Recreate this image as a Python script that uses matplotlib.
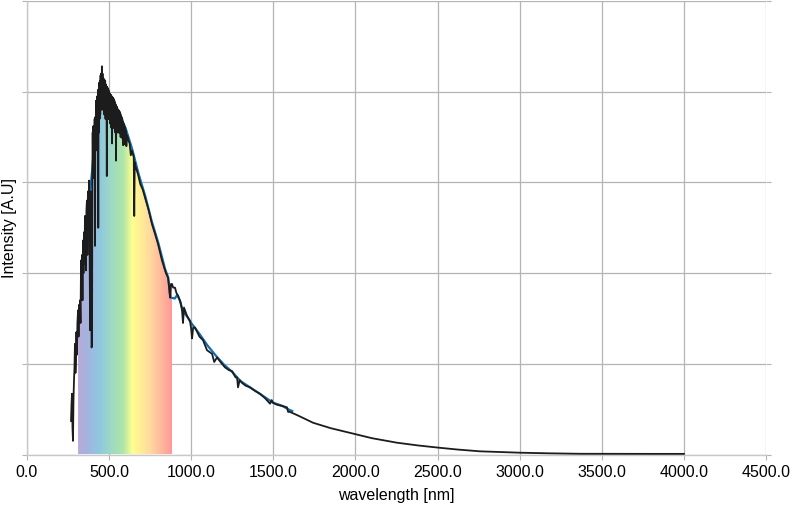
import numpy as np
import matplotlib
matplotlib.use("Agg")
import matplotlib.pyplot as plt
from matplotlib.colors import LinearSegmentedColormap

# ---------------- data ----------------
black_wl = [268, 271, 274, 277, 280, 283, 286, 289, 292, 295, 298, 301, 304, 307, 311,
            314, 317, 320, 323, 326, 329, 332, 335, 338, 341, 344, 347, 350, 353, 356,
            359, 362, 365, 368, 371, 374, 378, 381, 384, 387, 390, 393, 396, 398,
            400, 402, 404, 406, 408, 410, 412, 414, 416, 418, 420, 422, 424, 426, 428,
            430, 432, 434, 436, 438, 440, 442, 444, 446, 448, 450, 452, 454, 456, 458,
            460, 462, 464, 466, 468, 470, 472, 474, 476, 478, 480, 482, 484, 486, 488,
            490, 492, 494, 496, 498, 500, 502, 504, 506, 508, 510, 512, 514, 516, 518,
            520, 522, 524, 526, 528, 530, 532, 534, 536, 538, 540, 542, 544, 546, 548,
            550, 552, 554, 556, 558, 560, 562, 564, 566, 568, 570, 572, 574, 576, 578,
            580, 582, 584, 586, 588, 590, 592, 594, 596, 598, 600, 605, 610, 618, 625,
            632, 639, 650, 653, 656, 660,
            676, 690, 705, 719, 740, 761, 780, 798, 810, 822, 834, 846, 859, 865, 871,
            877, 883, 890, 901, 910, 920, 935, 944, 950, 956, 974, 993, 1000, 1005, 1012,
            1023, 1050, 1072, 1096, 1127, 1140, 1157, 1187, 1206, 1230, 1248, 1270, 1279, 1285, 1295,
            1309, 1330, 1358, 1390, 1419, 1450, 1480, 1490, 1498, 1520, 1541, 1565, 1583, 1590, 1601,
            1650, 1742, 1850, 1985, 2100, 2253, 2380, 2497, 2620, 2758, 2880, 2999, 3180, 3367, 3600,
            3800, 4000]
black_int = [0.37, 0.55, 0.67, 0.30, 0.15, 0.60, 0.81, 0.95, 1.22, 0.90, 1.04, 1.35, 1.10, 1.45, 1.59,
             1.30, 1.65, 1.50, 1.70, 1.45, 2.14, 1.80, 2.20, 1.70, 2.36, 2.00, 2.45, 2.10, 2.63, 2.30,
             2.03, 2.70, 2.80, 2.20, 2.90, 2.60, 3.02, 2.40, 1.37, 2.60, 2.90, 1.18, 1.20, 3.10,
             3.55, 3.20, 3.62, 3.05, 3.60, 3.30, 3.70, 2.30, 3.72, 3.35, 3.90, 3.45, 3.85, 3.50, 3.95,
             3.55, 4.02, 2.50, 4.00, 3.55, 4.10, 3.70, 4.12, 3.75, 4.18, 3.80, 4.20, 3.85, 4.28, 3.90,
             4.20, 3.80, 4.15, 3.85, 4.14, 3.75, 4.13, 3.80, 4.12, 3.70, 4.08, 3.75, 4.06, 3.07, 4.05,
             3.70, 4.04, 3.75, 4.02, 3.70, 4.00, 3.70, 3.98, 3.65, 3.97, 3.70, 3.96, 3.60, 3.95, 3.43,
             3.94, 3.65, 3.93, 3.60, 3.92, 3.65, 3.90, 3.60, 3.88, 3.55, 3.86, 3.24, 3.84, 3.60, 3.83,
             3.55, 3.81, 3.58, 3.80, 3.55, 3.79, 3.55, 3.78, 3.55, 3.76, 3.50, 3.74, 3.52, 3.72, 3.50,
             3.70, 3.48, 3.67, 3.41, 3.65, 3.45, 3.63, 3.45, 3.61, 3.42, 3.58, 3.40, 3.52, 3.46, 3.43,
             3.30, 3.35, 3.28, 2.63, 3.22, 3.18,
             3.09, 2.98, 2.92, 2.83, 2.70, 2.54, 2.43, 2.32, 2.23, 2.14, 2.07, 2.00, 1.95, 1.85, 1.73,
             1.88, 1.88, 1.84, 1.84, 1.78, 1.75, 1.68, 1.59, 1.45, 1.62, 1.53, 1.47, 1.38, 1.28, 1.40,
             1.40, 1.30, 1.26, 1.15, 1.11, 1.02, 1.07, 1.00, 0.96, 0.93, 0.92, 0.85, 0.85, 0.74, 0.82,
             0.79, 0.76, 0.74, 0.70, 0.67, 0.62, 0.56, 0.60, 0.57, 0.55, 0.54, 0.53, 0.52, 0.47, 0.47,
             0.43, 0.35, 0.29, 0.23, 0.18, 0.13, 0.10, 0.077, 0.055, 0.035, 0.027, 0.020, 0.013, 0.008, 0.007,
             0.007, 0.007]

blue_wl = [330, 350, 380, 400, 420, 440, 460, 480, 500, 520, 540, 560, 600, 640, 680,
           720, 760, 800, 840, 860, 870, 875, 900, 915, 930, 950, 975, 1000, 1050, 1100,
           1150, 1200, 1250, 1300, 1350, 1400, 1450, 1500, 1550, 1600, 1615]
blue_int = [1.90, 2.40, 2.80, 3.20, 3.60, 3.90, 4.00, 3.95, 3.92, 3.88, 3.82, 3.76, 3.60, 3.37, 3.09,
            2.85, 2.57, 2.33, 2.05, 1.95, 1.78, 1.73, 1.72, 1.76, 1.70, 1.58, 1.52, 1.45, 1.33, 1.20,
            1.09, 0.99, 0.91, 0.81, 0.75, 0.69, 0.63, 0.57, 0.54, 0.49, 0.48]

visible_range = (311, 883)
x_ticks = [0, 500, 1000, 1500, 2000, 2500, 3000, 3500, 4000, 4500]
x_ticklabels = ["0.0", "500.0", "1000.0", "1500.0", "2000.0", "2500.0",
                "3000.0", "3500.0", "4000.0", "4500.0"]
y_ticks = [0, 1, 2, 3, 4, 5]

# ---------------- style ----------------
plt.rcParams['font.family'] = ['Liberation Sans', 'DejaVu Sans']
grid_c = '#b4b4b4'
spec_stops = [(0.00, (0.73, 0.66, 0.84)),
              (0.12, (0.62, 0.72, 0.88)),
              (0.23, (0.56, 0.78, 0.88)),
              (0.36, (0.62, 0.86, 0.76)),
              (0.48, (0.68, 0.90, 0.66)),
              (0.58, (1.00, 1.00, 0.56)),
              (0.77, (1.00, 0.85, 0.62)),
              (1.00, (1.00, 0.60, 0.60))]
cmap = LinearSegmentedColormap.from_list("spec", spec_stops)

fig = plt.figure(figsize=(8.0, 5.05), dpi=100)
ax = fig.add_axes([0.03375, 0.1, 0.92375, 0.898])

bw = np.array(black_wl, dtype=float)
bi = np.array(black_int, dtype=float)

# spectral gradient under curve
mask = (bw >= visible_range[0]) & (bw <= visible_range[1])
poly = ax.fill_between(bw[mask], 0, bi[mask], facecolor='none', edgecolor='none', zorder=1)
grad = np.linspace(0, 1, 256).reshape(1, -1)
im = ax.imshow(grad, cmap=cmap, aspect='auto',
               extent=[visible_range[0], visible_range[1], 0, 5], origin='lower', zorder=1)
im.set_clip_path(poly.get_paths()[0], transform=ax.transData)

ax.plot(blue_wl, blue_int, color='#0f6db3', lw=1.6, zorder=3)
ax.plot(bw, bi, color='#1c1c1c', lw=1.3, zorder=4)

ax.set_xlim(0, 4500)
ax.set_ylim(0, 5)
ax.set_xticks(x_ticks)
ax.set_xticklabels(x_ticklabels, fontsize=11.5)
ax.set_yticks(y_ticks)
ax.tick_params(axis='y', labelleft=False, left=True, right=True, length=3.5, color=grid_c)
ax.tick_params(axis='x', length=3.5, color=grid_c, pad=4)
ax.grid(True, color=grid_c, lw=0.9, zorder=0)
ax.set_axisbelow(True)
for s in ['top', 'right']:
    ax.spines[s].set_visible(False)
for s in ['left', 'bottom']:
    ax.spines[s].set_color('#c8c8c8')
    ax.spines[s].set_linewidth(1.0)

ax.set_xlabel("wavelength [nm]", fontsize=11.5, labelpad=6)
fig.text(10 / 800, 1 - 228 / 505, "Intensity [A.U]", rotation=90,
         ha='center', va='center', fontsize=11.5)

fig.savefig("out.png", dpi=100)
